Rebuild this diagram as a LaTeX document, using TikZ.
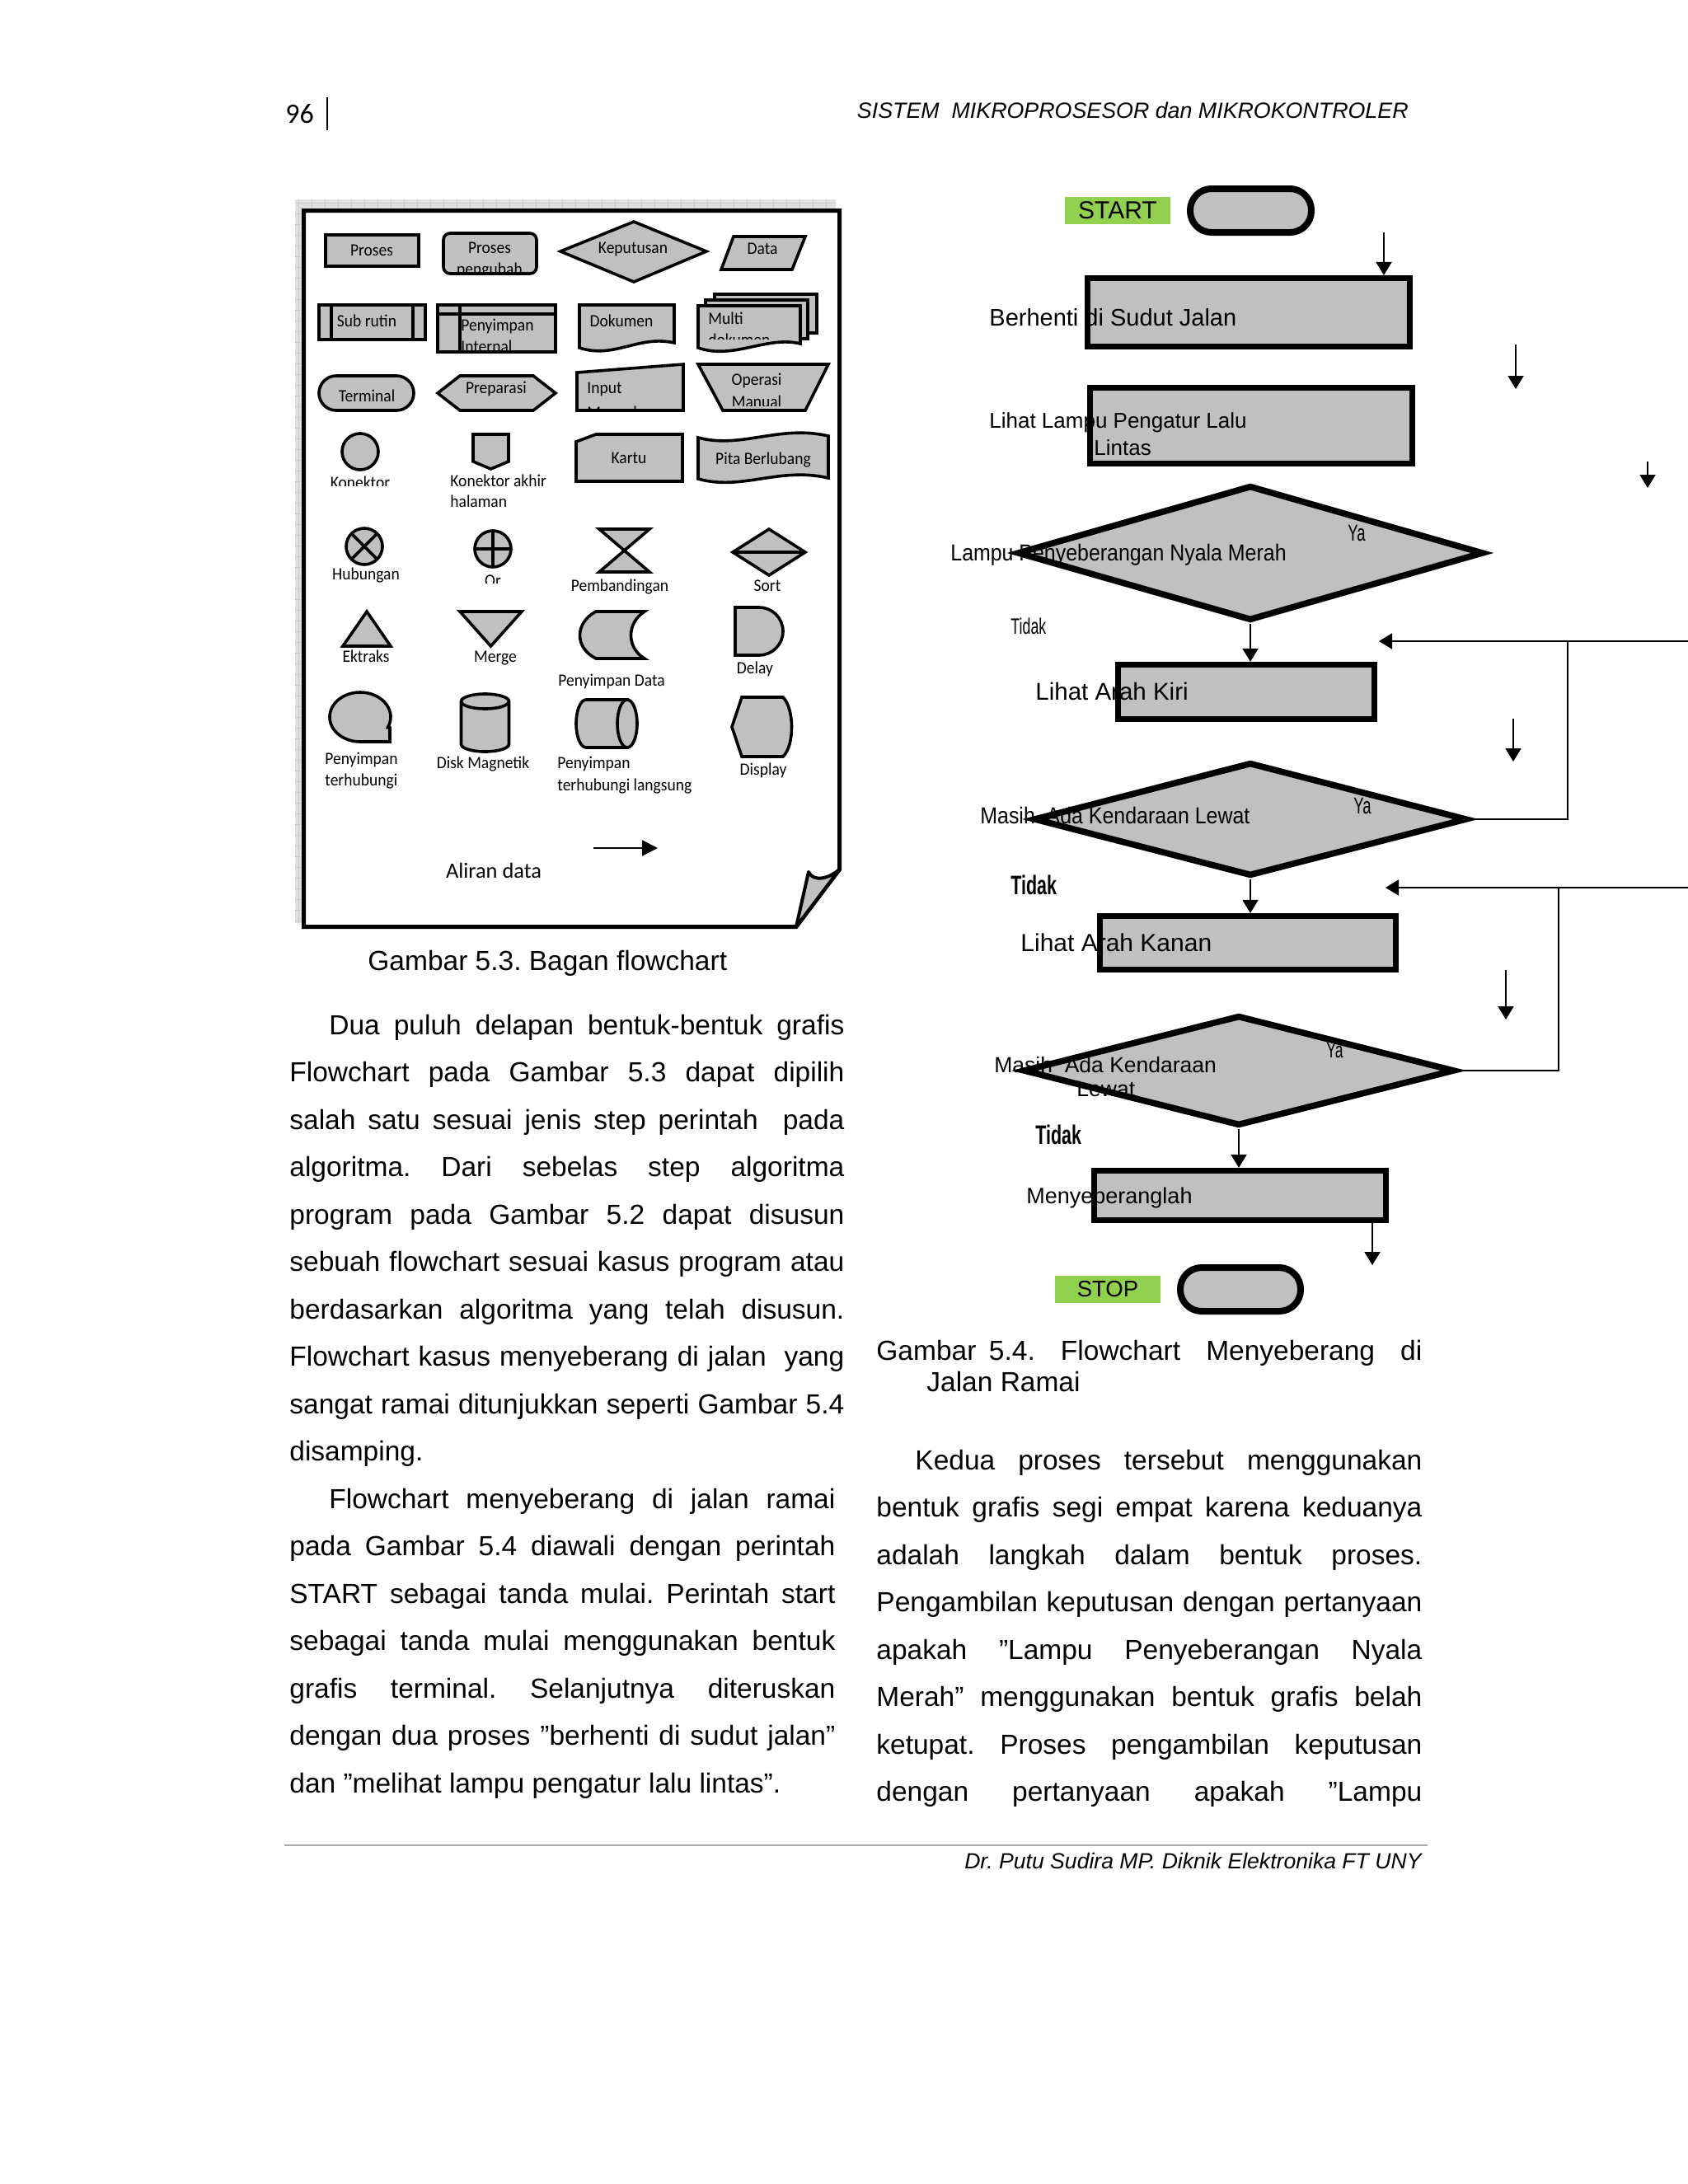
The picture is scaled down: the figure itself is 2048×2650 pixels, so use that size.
\documentclass[tikz,border=0pt]{standalone}
\usepackage{fontspec}
\setmainfont{Liberation Sans}
\newfontfamily\symf{Carlito}[FakeStretch=0.93]
\newfontfamily\calf{Carlito}
\newfontfamily\condA{Liberation Sans}[FakeStretch=0.89]
\newfontfamily\condB{Liberation Sans}[FakeStretch=0.66]
\usetikzlibrary{arrows.meta,shapes.geometric}
\definecolor{shapegray}{RGB}{192,192,192}
\definecolor{lblgreen}{RGB}{146,208,80}
\definecolor{gridbg}{RGB}{224,224,224}
\definecolor{gridln}{RGB}{202,202,202}
\definecolor{footgray}{RGB}{170,170,170}
\newcommand\fsz[1]{\fontsize{#1pt}{#1pt}\selectfont}
\frenchspacing
\begin{document}
\frenchspacing
\begin{tikzpicture}[x=0.5pt,y=-0.5pt,
  sym/.style={draw=black,fill=shapegray,line width=1.8pt,line join=miter},
  symline/.style={line width=1.8pt},
  lbl/.style={inner sep=0,font=\symf\fsz{10.5}},
  body/.style={anchor=base west,inner sep=0,font=\fsz{16.75}},
  fbox/.style={draw=black,fill=shapegray,line width=3.6pt,inner sep=0,rectangle},
  fdia/.style={draw=black,fill=shapegray,line width=3.8pt,inner sep=0,diamond},
  fterm/.style={draw=black,fill=shapegray,line width=4pt,inner sep=0,rectangle,rounded corners=13pt},
  ftxt/.style={anchor=base west,inner sep=0},
  conn/.style={line width=1pt},
  arr/.style={line width=1pt,-{Triangle[length=8pt,width=9.5pt]}},
  glabel/.style={fill=lblgreen,inner sep=0,minimum width=64pt,minimum height=16.5pt}
]
\useasboundingbox (0,0) rectangle (2048,2650);
\fill[white] (0,0) rectangle (2048,2650);

% ---------- header ----------
\node[anchor=base west,inner sep=0,font=\calf\fsz{17}] (pgno) at (346,149) {96};
\draw[line width=0.8pt] (397,118) -- (397,158);
\node[anchor=base east,inner sep=0,font=\itshape\fsz{13.4}] (head) at (1709,143) {SISTEM\ \ MIKROPROSESOR dan MIKROKONTROLER};

% ---------- left figure: frame ----------
\begin{scope}
\clip (358,242) -- (1014,242) -- (1014,1048) -- (958,1120) -- (358,1120) -- cycle;
\fill[gridbg] (358,242) rectangle (1014,1120);
\foreach \gx in {362,378,...,1010} \draw[gridln,line width=0.4pt] (\gx,242) -- (\gx,1120);
\foreach \gy in {246,259,...,1118} \draw[gridln,line width=0.4pt] (358,\gy) -- (1014,\gy);
\end{scope}
\draw[line width=2.5pt,fill=white,line join=miter] (368.5,255.5) -- (1018.5,255.5) -- (1018.5,1055) -- (966,1124.5) -- (368.5,1124.5) -- cycle;
\draw[line width=2pt,fill=shapegray,line join=round] (981,1058) .. controls (987,1070) and (1004,1067) .. (1018.5,1055) -- (966,1124.5) -- cycle;

% Row 1
\draw[sym] (395,285) rectangle (508,323);
\node[lbl,anchor=base] (lProses) at (451,310) {Proses};
\draw[sym,rounded corners=4pt] (538,283) rectangle (651,332);
\begin{scope}
\clip (540,285) rectangle (649,329.5);
\node[lbl,anchor=base] (lPP1) at (594,307) {Proses};
\node[lbl,anchor=base] (lPP2) at (594,333) {pengubah};
\end{scope}
\draw[sym] (680,305) -- (769,269) -- (857,305) -- (769,342) -- cycle;
\node[lbl,anchor=base] (lKep) at (768,307) {Keputusan};
\draw[sym] (890,287) -- (977,287) -- (961,327) -- (875,327) -- cycle;
\node[lbl,anchor=base] (lData) at (925,308) {Data};

% Row 2
\draw[sym] (387,370) rectangle (516,412);
\draw[symline] (402,370) -- (402,412) (501,370) -- (501,412);
\node[lbl,anchor=base] (lSub) at (445,396) {Sub rutin};
\draw[sym] (531,370) rectangle (674,427);
\draw[symline] (531,381) -- (674,381) (558,370) -- (558,427);
\begin{scope}
\clip (533,372) rectangle (672,425);
\node[lbl,anchor=base west] (lPI1) at (559,401) {Penyimpan};
\node[lbl,anchor=base west] (lPI2) at (559,427) {Internal};
\end{scope}
\draw[sym] (703,370) -- (818,370) -- (818,416) .. controls (775,406) and (745,436) .. (703,422) -- cycle;
\node[lbl,anchor=base] (lDok) at (754,396) {Dokumen};
\draw[sym] (867,357) rectangle (991,404);
\draw[sym] (856,364) rectangle (980,411);
\draw[sym] (847,371) -- (971,371) -- (971,417) .. controls (930,407) and (890,437) .. (847,422) -- cycle;
\begin{scope}
\clip (849,373) rectangle (969,411);
\node[lbl,anchor=base west] (lMul1) at (859,393) {Multi};
\node[lbl,anchor=base west] (lMul2) at (859,419) {dokumen};
\end{scope}

% Row 3
\draw[sym,rounded corners=10.5pt] (387,456) rectangle (502,498);
\node[lbl,anchor=base] (lTerm) at (445,487) {Terminal};
\draw[sym] (531,477) -- (558,456) -- (647,456) -- (674,477) -- (647,498) -- (558,498) -- cycle;
\node[lbl,anchor=base] (lPrep) at (602,477) {Preparasi};
\draw[sym] (700,452) -- (829,442) -- (829,498) -- (700,498) -- cycle;
\begin{scope}
\clip (702,454) rectangle (827,496);
\node[lbl,anchor=base west] (lIn1) at (712,477) {Input};
\node[lbl,anchor=base west] (lIn2) at (712,507) {Manual};
\end{scope}
\draw[sym] (847,442) -- (1005,442) -- (977,498) -- (877,498) -- cycle;
\begin{scope}
\clip (840,444) rectangle (1010,492);
\node[lbl,anchor=base] (lOp1) at (918,467) {Operasi};
\node[lbl,anchor=base] (lOp2) at (918,494) {Manual};
\end{scope}

% Row 4
\draw[sym] (437,548) circle[radius=22];
\begin{scope}
\clip (380,572) rectangle (500,589);
\node[lbl,anchor=base] (lKon) at (437,592) {Konektor};
\end{scope}
\draw[sym] (574,527) -- (617,527) -- (617,560) -- (595.5,569) -- (574,560) -- cycle;
\node[lbl,anchor=base west] (lKA1) at (546,590) {Konektor akhir};
\node[lbl,anchor=base west] (lKA2) at (546,615) {halaman};
\draw[sym] (723,527) -- (828,527) -- (828,584) -- (699,584) -- (699,536) -- cycle;
\node[lbl,anchor=base] (lKartu) at (763,562) {Kartu};
\draw[sym] (847,531) .. controls (900,545) and (945,515) .. (1005,529) -- (1005,580) .. controls (945,566) and (900,596) .. (847,581) -- cycle;
\node[lbl,anchor=base] (lPita) at (926,563) {Pita Berlubang};

% Row 5
\draw[sym] (442,663) circle[radius=22];
\draw[symline] (426.4,647.4) -- (457.6,678.6) (426.4,678.6) -- (457.6,647.4);
\node[lbl,anchor=base] (lHub) at (444,703) {Hubungan};
\draw[sym] (598,666) circle[radius=22];
\draw[symline] (576,666) -- (620,666) (598,644) -- (598,688);
\begin{scope}
\clip (570,692) rectangle (630,707);
\node[lbl,anchor=base] (lOr) at (598,711) {Or};
\end{scope}
\draw[sym] (727,642) -- (788,642) -- (727,694) -- (788,694) -- cycle;
\node[lbl,anchor=base] (lPemb) at (752,717) {Pembandingan};
\draw[sym] (889,670) -- (933,642) -- (977,670) -- (933,698) -- cycle;
\draw[symline] (889,670) -- (977,670);
\node[lbl,anchor=base] (lSort) at (931,717) {Sort};

% Row 6
\draw[sym] (445,742) -- (474,784) -- (416,784) -- cycle;
\node[lbl,anchor=base] (lEkt) at (444,803) {Ektraks};
\draw[sym] (558,742) -- (633,742) -- (595.5,784) -- cycle;
\node[lbl,anchor=base] (lMerge) at (601,803) {Merge};
\draw[sym] (723,742) -- (782,742) .. controls (760,756) and (760,786) .. (782,799) -- (723,799) .. controls (697,786) and (697,756) .. (723,742) -- cycle;
\node[lbl,anchor=base] (lPD) at (742,832) {Penyimpan Data};
\draw[sym] (892,737) -- (921,737) arc[start angle=-90,end angle=90,radius=29] -- (892,795) -- cycle;
\node[lbl,anchor=base] (lDelay) at (916,817) {Delay};

% Row 7
\draw[sym] (437,900) arc[start angle=90,end angle=385,x radius=37,y radius=30] -- (473,883) -- (473,900) -- cycle;
\node[lbl,anchor=base west] (lPT1) at (394,927) {Penyimpan};
\node[lbl,anchor=base west] (lPT2) at (394,953) {terhubungi};
\draw[sym] (559.5,851) -- (559.5,903) arc[start angle=180,end angle=0,x radius=29,y radius=9] -- (617.5,851) arc[start angle=0,end angle=-180,x radius=29,y radius=9] -- cycle;
\draw[symline] (559.5,851) arc[start angle=180,end angle=0,x radius=29,y radius=9];
\node[lbl,anchor=base] (lDisk) at (586,932) {Disk Magnetik};
\draw[sym] (761,849) -- (711,849) arc[start angle=270,end angle=90,x radius=12,y radius=29] -- (761,907) -- cycle;
\draw[sym] (761,878) ellipse[x radius=12,y radius=29];
\node[lbl,anchor=base west] (lPL1) at (676,932) {Penyimpan};
\node[lbl,anchor=base west] (lPL2) at (676,959) {terhubungi langsung};
\draw[sym] (888,882) -- (900,846) -- (950,846) .. controls (964,860) and (964,905) .. (950,918) -- (900,918) -- cycle;
\node[lbl,anchor=base] (lDisp) at (926,940) {Display};

% Aliran data
\node[anchor=base,inner sep=0,font=\calf\fsz{13.2}] (aliran) at (599,1065) {Aliran data};
\coordinate (ad1) at (720,1029);
\coordinate (ad2) at (798,1029);
\draw[line width=1pt,-{Triangle[length=9.5pt,width=9.5pt]}] (ad1) -- (ad2);

% caption left
\node[body] (cap1) at (446,1177) {Gambar 5.3. Bagan flowchart};

% ---------- left body text ----------
\node[body] (L1) at (399,1255) {\makebox[312.5pt][s]{Dua puluh delapan bentuk-bentuk grafis}};
\node[body] (L2) at (351,1312.5) {\makebox[336.5pt][s]{Flowchart pada Gambar 5.3 dapat dipilih}};
\node[body] (L3) at (351,1370) {\makebox[336.5pt][s]{salah satu sesuai jenis step perintah\ \ pada}};
\node[body] (L4) at (351,1427.5) {\makebox[336.5pt][s]{algoritma. Dari sebelas step algoritma}};
\node[body] (L5) at (351,1485) {\makebox[336.5pt][s]{program pada Gambar 5.2 dapat disusun}};
\node[body] (L6) at (351,1542.5) {\makebox[336.5pt][s]{sebuah flowchart sesuai kasus program atau}};
\node[body] (L7) at (351,1600) {\makebox[336.5pt][s]{berdasarkan algoritma yang telah disusun.}};
\node[body] (L8) at (351,1657.5) {\makebox[336.5pt][s]{Flowchart kasus menyeberang di jalan\ \ yang}};
\node[body] (L9) at (351,1715) {\makebox[336.5pt][s]{sangat ramai ditunjukkan seperti Gambar 5.4}};
\node[body] (L10) at (351,1772.5) {disamping.};
\node[body] (L11) at (399,1830) {\makebox[307pt][s]{Flowchart menyeberang di jalan ramai}};
\node[body] (L12) at (351,1887.5) {\makebox[331pt][s]{pada Gambar 5.4 diawali dengan perintah}};
\node[body] (L13) at (351,1945) {\makebox[331pt][s]{START sebagai tanda mulai. Perintah start}};
\node[body] (L14) at (351,2002.5) {\makebox[331pt][s]{sebagai tanda mulai menggunakan bentuk}};
\node[body] (L15) at (351,2060) {\makebox[331pt][s]{grafis terminal. Selanjutnya diteruskan}};
\node[body] (L16) at (351,2117.5) {\makebox[331pt][s]{dengan dua proses ”berhenti di sudut jalan”}};
\node[body] (L17) at (351,2175) {dan ”melihat lampu pengatur lalu lintas”.};

% ---------- right caption + text ----------
\node[body] (cap2a) at (1063,1650) {\makebox[331pt][s]{Gambar 5.4.\ \ Flowchart\ \ Menyeberang\ \ di}};
\node[body] (cap2b) at (1124,1688) {Jalan Ramai};
\node[body] (R1) at (1110,1783) {\makebox[307.5pt][s]{Kedua proses tersebut menggunakan}};
\node[body] (R2) at (1063,1840.5) {\makebox[331pt][s]{bentuk grafis segi empat karena keduanya}};
\node[body] (R3) at (1063,1898) {\makebox[331pt][s]{adalah langkah dalam bentuk proses.}};
\node[body] (R4) at (1063,1955.5) {\makebox[331pt][s]{Pengambilan keputusan dengan pertanyaan}};
\node[body] (R5) at (1063,2013) {\makebox[331pt][s]{apakah ”Lampu Penyeberangan Nyala}};
\node[body] (R6) at (1063,2070.5) {\makebox[331pt][s]{Merah” menggunakan bentuk grafis belah}};
\node[body] (R7) at (1063,2128) {\makebox[331pt][s]{ketupat. Proses pengambilan keputusan}};
\node[body] (R8) at (1063,2185.5) {\makebox[331pt][s]{dengan pertanyaan apakah ”Lampu}};

% ---------- footer ----------
\draw[footgray,line width=1pt] (345,2239) -- (1732,2239);
\node[anchor=base east,inner sep=0,font=\itshape\fsz{13.3}] (foot) at (1725,2267) {Dr. Putu Sudira MP. Diknik Elektronika FT UNY};

% ---------- right flowchart ----------
\node[glabel] (gstart) at (1356,255.5) {\fsz{15}START};
\node[fterm,minimum width=73.5pt,minimum height=26.5pt] (tstart) at (1517.5,255.5) {};

\node[fbox,minimum width=195.5pt,minimum height=41.5pt] (b1) at (1515,379) {};
\node[ftxt,font=\fsz{14.5}] (t1) at (1200,395) {Berhenti di Sudut Jalan};

\node[fbox,minimum width=195.5pt,minimum height=46pt] (b2) at (1518,516.5) {};
\node[ftxt,font=\fsz{13}] (t2) at (1200,519) {Lihat Lampu Pengatur Lalu};
\node[ftxt,font=\fsz{13}] (t2b) at (1327,552) {Lintas};

\node[fdia,minimum width=283pt,minimum height=82pt] (d1) at (1517,671) {};
\node[ftxt,font=\condA\fsz{14}] (t3) at (1153,680) {Lampu Penyeberangan Nyala Merah};
\node[ftxt,font=\condB\fsz{14}] (ya1) at (1635,656) {Ya};
\node[ftxt,font=\condB\fsz{13.5}] (no1) at (1226,769) {Tidak};

\node[fbox,minimum width=155.5pt,minimum height=33pt] (b3) at (1512,839.5) {};
\node[ftxt,font=\fsz{14.75}] (t4) at (1256,849) {Lihat Arah Kiri};

\node[fdia,minimum width=263pt,minimum height=69pt] (d2) at (1517,994) {};
\node[ftxt,font=\condA\fsz{14}] (t5) at (1189,999) {Masih\ \ Ada Kendaraan Lewat};
\node[ftxt,font=\condB\fsz{14}] (ya2) at (1642,987.5) {Ya};
\node[ftxt,font=\condB\bfseries\fsz{16.25}] (no2) at (1226,1085) {Tidak};

\node[fbox,minimum width=179.5pt,minimum height=32.5pt] (b4) at (1514,1144) {};
\node[ftxt,font=\fsz{15}] (t6) at (1238,1154) {Lihat Arah Kanan};

\node[fdia,minimum width=262pt,minimum height=67pt] (d3) at (1503,1299) {};
\node[ftxt,font=\fsz{13.25}] (t7) at (1206,1301) {Masih\ \ Ada Kendaraan};
\node[ftxt,font=\fsz{13.25}] (t7b) at (1306,1330) {Lewat};
\node[ftxt,font=\condB\fsz{13.25}] (ya3) at (1609,1283) {Ya};
\node[ftxt,font=\condB\bfseries\fsz{16.25}] (no3) at (1256,1388) {Tidak};

\node[fbox,minimum width=177pt,minimum height=30pt] (b5) at (1504.5,1450.5) {};
\node[ftxt,font=\fsz{13.5}] (t8) at (1245,1460) {Menyeberanglah};

\node[glabel] (gstop) at (1344,1564.5) {\fsz{13.75}STOP};
\node[fterm,minimum width=73pt,minimum height=26.5pt] (tstop) at (1505,1564.5) {};

% connectors
\coordinate (f1) at (1679,282);
\draw[arr] (f1) -- (f1 |- b1.north);
\coordinate (f2a) at (1839,418);
\coordinate (f2b) at (1839,472);
\draw[arr] (f2a) -- (f2b);
\coordinate (f3a) at (1999,560);
\coordinate (f3b) at (1999,592);
\draw[arr] (f3a) -- (f3b);
\draw[arr] (d1.south) -- (d1.south |- b3.north);
\coordinate (e1) at (2048,778);
\coordinate (e1t) at (1673,778);
\coordinate (j1) at (1902,778);
\draw[arr] (e1) -- (e1t);
\draw[conn] (d2.east) -| (j1);
\coordinate (f4a) at (1836,872);
\coordinate (f4b) at (1836,924);
\draw[arr] (f4a) -- (f4b);
\draw[arr] (d2.south) -- (d2.south |- b4.north);
\coordinate (e2) at (2048,1077);
\coordinate (e2t) at (1681,1077);
\coordinate (j2) at (1891,1077);
\draw[arr] (e2) -- (e2t);
\draw[conn] (d3.east) -| (j2);
\coordinate (f5a) at (1827,1177);
\coordinate (f5b) at (1827,1237);
\draw[arr] (f5a) -- (f5b);
\draw[arr] (d3.south) -- (d3.south |- b5.north);
\coordinate (f6) at (1665,1535);
\draw[arr] (b5.south -| f6) -- (f6);
\end{tikzpicture}
\end{document}
